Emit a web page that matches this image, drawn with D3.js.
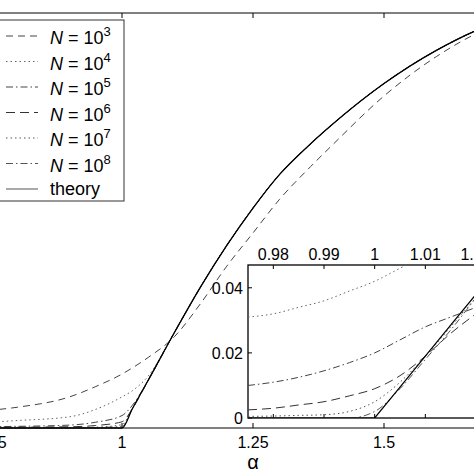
<!DOCTYPE html>
<html><head><meta charset="utf-8">
<script src="https://cdn.jsdelivr.net/npm/d3@7"></script>
<style>body{margin:0;background:#fff}text{font-family:"Liberation Sans",Arial,sans-serif}</style>
</head><body><svg id="c" width="474" height="474"></svg>
<script>
// main panel data (alpha, order parameter)
const mainAlpha = [0.72, 0.8, 0.9, 0.95, 1.0, 1.02, 1.05, 1.1, 1.15, 1.2, 1.25, 1.3, 1.36, 1.4, 1.5, 1.6, 1.7, 1.75];
const mainN3 =    [0.04, 0.05, 0.075, 0.1, 0.13, 0.145, 0.17, 0.22, 0.30, 0.39, 0.47, 0.55, 0.63, 0.68, 0.80, 0.895, 0.965, 0.99];
const mainN4 =    [0.012, 0.018, 0.027, 0.045, 0.075, 0.09, 0.125, 0.23, 0.34, 0.44, 0.53, 0.61, 0.685, 0.73, 0.83, 0.91, 0.97, 0.99];
const mainN5 =    [0.003, 0.004, 0.007, 0.014, 0.03, 0.055, 0.115, 0.23, 0.34, 0.44, 0.53, 0.61, 0.685, 0.73, 0.83, 0.91, 0.97, 0.99];
const mainN6 =    [0.001, 0.002, 0.003, 0.006, 0.015, 0.047, 0.115, 0.23, 0.34, 0.44, 0.53, 0.61, 0.685, 0.73, 0.83, 0.91, 0.97, 0.99];
const mainN7 =    [0, 0, 0.001, 0.002, 0.008, 0.047, 0.115, 0.23, 0.34, 0.44, 0.53, 0.61, 0.685, 0.73, 0.83, 0.91, 0.97, 0.99];
const mainN8 =    [0, 0, 0, 0.001, 0.004, 0.047, 0.115, 0.23, 0.34, 0.44, 0.53, 0.61, 0.685, 0.73, 0.83, 0.91, 0.97, 0.99];
const mainTheory= [0, 0, 0, 0, 0, 0.047, 0.115, 0.23, 0.34, 0.44, 0.53, 0.61, 0.685, 0.73, 0.83, 0.91, 0.97, 0.99];
const mainTicks = [0.75, 1, 1.25, 1.5, 1.75];

// inset data
const inAlpha = [0.975, 0.98, 0.985, 0.99, 0.995, 1.0, 1.005, 1.01, 1.015, 1.02];
const inN4 =    [0.031, 0.032, 0.034, 0.036, 0.039, 0.042, 0.046, 0.050, 0.055, 0.06];
const inN5 =    [0.010, 0.011, 0.0125, 0.0145, 0.017, 0.020, 0.024, 0.028, 0.031, 0.034];
const inN6 =    [0.0025, 0.003, 0.004, 0.005, 0.0068, 0.009, 0.013, 0.019, 0.026, 0.032];
const inN7 =    [0.0005, 0.0006, 0.0008, 0.001, 0.002, 0.005, 0.011, 0.019, 0.028, 0.037];
const inN8 =    [0, 0, 0, 0, 0, 0.002, 0.009, 0.018, 0.027, 0.037];
const inTheory= [0, 0, 0, 0, 0, 0, 0.0095, 0.019, 0.0285, 0.038];
const inXTicks = [0.98, 0.99, 1, 1.01, 1.02];
const inYTicks = [0, 0.02, 0.04];

const legendLabels = ["3", "4", "5", "6", "7", "8"];
const styles = [
  {dash: "7,5", w: 1, c: "#444"}, {dash: "1.5,3", w: 1, c: "#666"}, {dash: "7,3,1.5,3", w: 1, c: "#444"},
  {dash: "9,5", w: 1, c: "#333"}, {dash: "1.5,3", w: 1, c: "#555"}, {dash: "7,3,1.5,3", w: 1, c: "#555"}
];

const svg = d3.select("#c");
const x = d3.scaleLinear().domain([0.75, 1.75]).range([-9, 515]);
const y = d3.scaleLinear().domain([0, 1]).range([428, 13]);

svg.append("line").attr("x1", 0).attr("x2", 474).attr("y1", 13).attr("y2", 13).attr("stroke", "#000");
svg.append("line").attr("x1", 0).attr("x2", 474).attr("y1", 428).attr("y2", 428).attr("stroke", "#000");
mainTicks.forEach(t => {
  svg.append("line").attr("x1", x(t)).attr("x2", x(t)).attr("y1", 428).attr("y2", 423).attr("stroke", "#000");
  svg.append("line").attr("x1", x(t)).attr("x2", x(t)).attr("y1", 13).attr("y2", 18).attr("stroke", "#000");
  svg.append("text").attr("x", x(t)).attr("y", 448).attr("text-anchor", "middle").attr("font-size", 16).text(t);
});
svg.append("text").attr("x", x(1.25)).attr("y", 469).attr("text-anchor", "middle").attr("font-size", 20).text("α");

const lineM = d3.line().x((d, i) => x(mainAlpha[i])).y(d => y(d)).curve(d3.curveMonotoneX);
[mainN3, mainN4, mainN5, mainN6, mainN7, mainN8].forEach((s, k) => {
  svg.append("path").attr("d", lineM(s)).attr("fill", "none")
    .attr("stroke", styles[k].c).attr("stroke-width", styles[k].w).attr("stroke-dasharray", styles[k].dash);
});
svg.append("path").attr("d", lineM(mainTheory)).attr("fill", "none").attr("stroke", "#000").attr("stroke-width", 1.3);

// legend
const lg = svg.append("g");
lg.append("rect").attr("x", -2).attr("y", 20).attr("width", 126).attr("height", 181).attr("fill", "#fff").attr("stroke", "#333");
legendLabels.forEach((p, i) => {
  const yy = 36 + i * 25.5;
  lg.append("line").attr("x1", 6).attr("x2", 38).attr("y1", yy).attr("y2", yy)
    .attr("stroke", styles[i].c).attr("stroke-dasharray", styles[i].dash);
  const t = lg.append("text").attr("x", 50).attr("y", yy + 8).attr("font-size", 18);
  t.append("tspan").attr("font-style", "italic").text("N");
  t.append("tspan").text(" = 10");
  t.append("tspan").attr("dy", -8).attr("font-size", 13).text(p);
});
lg.append("line").attr("x1", 6).attr("x2", 38).attr("y1", 189).attr("y2", 189).attr("stroke", "#555");
lg.append("text").attr("x", 50).attr("y", 195).attr("font-size", 18).text("theory");

// inset
const ix = d3.scaleLinear().domain([0.975, 1.02]).range([248, 476]);
const iy = d3.scaleLinear().domain([0, 0.047]).range([418, 265]);
const ins = svg.append("g");
ins.append("rect").attr("x", 248).attr("y", 265).attr("width", 240).attr("height", 153).attr("fill", "#fff").attr("stroke", "#000").attr("stroke-width", 1.3);
svg.append("clipPath").attr("id", "ic").append("rect").attr("x", 248).attr("y", 265).attr("width", 240).attr("height", 153);
inXTicks.forEach(t => {
  ins.append("line").attr("x1", ix(t)).attr("x2", ix(t)).attr("y1", 265).attr("y2", 269).attr("stroke", "#000");
  ins.append("line").attr("x1", ix(t)).attr("x2", ix(t)).attr("y1", 418).attr("y2", 414).attr("stroke", "#000");
  ins.append("text").attr("x", ix(t)).attr("y", 260).attr("text-anchor", "middle").attr("font-size", 16).text(t);
});
inYTicks.forEach(t => {
  ins.append("line").attr("x1", 248).attr("x2", 252).attr("y1", iy(t)).attr("y2", iy(t)).attr("stroke", "#000");
  ins.append("text").attr("x", 243).attr("y", iy(t) + 6).attr("text-anchor", "end").attr("font-size", 16).text(t);
});
const lineI = d3.line().x((d, i) => ix(inAlpha[i])).y(d => iy(d)).curve(d3.curveMonotoneX);
const pg = ins.append("g").attr("clip-path", "url(#ic)");
[null, inN4, inN5, inN6, inN7, inN8].forEach((s, k) => {
  if (!s) return;
  pg.append("path").attr("d", lineI(s)).attr("fill", "none")
    .attr("stroke", styles[k].c).attr("stroke-dasharray", styles[k].dash);
});
pg.append("path").attr("d", d3.line().x((d, i) => ix(inAlpha[i])).y(d => iy(d))(inTheory)).attr("fill", "none").attr("stroke", "#000").attr("stroke-width", 1.2);
</script></body></html>
